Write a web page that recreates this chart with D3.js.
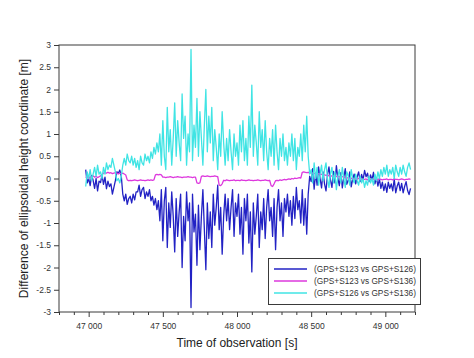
<!DOCTYPE html>
<html>
<head>
<meta charset="utf-8">
<script src="https://cdn.jsdelivr.net/npm/d3@7"></script>
<style>
html,body{margin:0;padding:0;background:#fff;}
svg{display:block;}
text{font-family:"Liberation Sans",Arial,sans-serif;}
</style>
</head>
<body>
<svg id="chart" width="474" height="358"></svg>
<script>
// ---- data (time grid: 10 s sampling starting at 46 980 s) ----
const tStart = 46980;
const tStep = 10;
const xTicks = [47000, 47500, 48000, 48500, 49000];
const xTickLabels = ["47 000", "47 500", "48 000", "48 500", "49 000"];
const yTicks = [-3, -2.5, -2, -1.5, -1, -0.5, 0, 0.5, 1, 1.5, 2, 2.5, 3];
const yTickLabels = ["-3", "-2.5", "-2", "-1.5", "-1", "-0.5", "0", "0.5", "1", "1.5", "2", "2.5", "3"];
const seriesNames = ["(GPS+S123 vs GPS+S126)", "(GPS+S123 vs GPS+S136)", "(GPS+S126 vs GPS+S136)"];
const seriesColors = ["#2222c4", "#dd38dd", "#40e4e4"];

const s123vs126 = [
  0.2, -0.1, 0.0, -0.16, 0.07, -0.04, -0.22, 0.0, -0.28, -0.06,
  -0.09, 0.08, -0.13, 0.03, -0.23, -0.06, -0.18, -0.12, -0.35, -0.2,
  -0.05, 0.15, 0.12, 0.19, 0.05, -0.35, -0.5, -0.35, -0.58, -0.45,
  -0.4, -0.55, -0.35, -0.48, -0.3, -0.3, -0.15, -0.4, -0.25, -0.2,
  -0.45, -0.3, -0.4, -0.25, -0.5, -0.4, -0.6, -0.45, -0.7, -0.5,
  -0.95, -0.25, -1.4, -0.5, -0.2,
  -1.55, -0.55, -1.1, -0.3, -0.85,
  -1.65, -0.45, -1.3, -0.75, -0.35,
  -2.0, -0.85, -1.4, -0.3, -0.95,
  -0.55, -2.9, -0.35, -1.2, -0.8,
  -1.95, -0.6, -1.6, -0.85, -0.25,
  -1.15, -2.05, -0.55, -1.35, -0.75,
  -1.55, -0.35, -1.05, -0.65, -0.15,
  -1.15, -0.65, -1.7, -0.85, -0.35,
  -0.95, -0.45, -1.15, -0.65, -0.25,
  -1.3, -0.55, -0.85, -0.35, -1.25,
  -0.65, -1.7, -0.45, -0.95, -0.35,
  -1.45, -0.75, -2.1, -0.55, -1.25,
  -0.85, -0.35, -1.55, -0.75, -1.15,
  -0.45, -1.35, -0.65, -0.25, -0.95,
  -0.65, -1.3, -0.45, -1.6, -0.65,
  -0.25, -0.95, -0.55, -1.3, -0.45,
  -0.75, -0.35, -0.85, -0.5, -1.05,
  -0.4, -0.9, -0.2, -0.7, -0.5,
  -1.0, -0.25, -1.05, -0.45, -1.25,
  -0.35, 0.05,
  -0.07, 0.22, -0.24, 0.12, -0.15, 0.26, 0.0, -0.21, 0.15, -0.12,
  -0.28, 0.08, 0.26, -0.03, -0.2, 0.16, -0.1, 0.29, 0.0, -0.16,
  0.13, -0.21, 0.03, 0.22, -0.13, -0.04, 0.15, -0.19, -0.01, 0.1,
  -0.12, 0.04, 0.15, -0.07, 0.09, -0.03, 0.18, 0.04, 0.12, -0.07,
  0.08, -0.03, 0.14, -0.12, 0.02, -0.17, -0.01, -0.22, -0.08, -0.27,
  -0.12, -0.31, -0.08, -0.22, -0.12, -0.28, -0.01, -0.32, -0.17, -0.08,
  -0.27, -0.11, -0.32, -0.18, -0.07, -0.27, -0.36, -0.22
];

const s123vs136 = [
  0.02, 0.05, 0.0, 0.04, 0.02, 0.06, 0.03, 0.05, 0.02, 0.04, 0.06, 0.08,
  0.12, 0.13, 0.12, 0.14, 0.12, 0.13, 0.11, 0.12, 0.13, 0.12, 0.1, 0.12, 0.11, 0.12, 0.1, 0.08,
  -0.03, -0.05, -0.04, -0.05, -0.04, -0.03, -0.04, -0.05, -0.04, -0.03, -0.04, -0.04, -0.05, -0.04, -0.03, -0.04, -0.03, -0.04, -0.03,
  0.08, 0.09, 0.08, 0.09, 0.08, 0.03,
  0.03, 0.02, 0.03, 0.03, 0.04, 0.03, 0.02, 0.03, 0.03, 0.04, 0.03, 0.03, 0.02, 0.03, 0.03, 0.03, 0.04, 0.03, 0.03, 0.02, 0.03, 0.03,
  -0.1, -0.11, -0.1,
  0.05, 0.06, 0.05, 0.05, 0.06, 0.05, 0.04, 0.05, 0.05, 0.06, 0.05, 0.04,
  -0.15, -0.16, -0.12,
  -0.04, -0.05, -0.03, -0.04, -0.05, -0.04, -0.04, -0.03, -0.05, -0.04,
  -0.04, -0.05, -0.03, -0.04, -0.04, -0.05, -0.04, -0.03, -0.04, -0.04,
  -0.05, -0.04, -0.04, -0.03, -0.04, -0.05, -0.04, -0.04, -0.03, -0.04,
  -0.05, -0.04,
  -0.16, -0.18, -0.12,
  -0.05, -0.04, -0.05, -0.03, -0.04, -0.03, -0.02, -0.03, -0.02, -0.01, -0.02, 0.0, -0.01, 0.01, 0.0, 0.01, 0.02, 0.01,
  0.14, 0.15, 0.14, 0.13, 0.14, 0.12, 0.13, 0.12, 0.11, 0.12, 0.1, 0.11, 0.1, 0.09, 0.1,
  0.08, 0.07, 0.08, 0.06, 0.07, 0.05, 0.06, 0.05, 0.04, 0.05, 0.04, 0.03, 0.04, 0.03, 0.02,
  0.02, 0.01, 0.0, 0.01, -0.01, 0.0, -0.02, -0.01, 0.0, -0.02,
  -0.01, -0.03, -0.02, -0.01, -0.03, -0.02, -0.02, -0.03, -0.01, -0.02,
  -0.03, -0.02, -0.01, -0.02, -0.03, -0.02, -0.02, -0.01, -0.03, -0.02,
  -0.02, -0.03, -0.01, -0.02, -0.02, -0.03, -0.02, -0.01, -0.02, -0.03,
  -0.02, -0.02, -0.01, -0.02
];

const s126vs136 = [
  -0.18, 0.15, 0.0, 0.2, -0.05, 0.1, 0.25, 0.05, 0.3, 0.1,
  0.15, 0.0, 0.25, 0.1, 0.35, 0.2, 0.3, 0.25, 0.45, 0.3,
  0.15, -0.05, 0.0, -0.1, 0.05, 0.3, 0.45, 0.3, 0.55, 0.4,
  0.35, 0.5, 0.3, 0.45, 0.25, 0.4, 0.2, 0.5, 0.35, 0.3,
  0.55, 0.4, 0.5, 0.35, 0.6, 0.45, 0.7, 0.55, 0.8, 0.6,
  1.0, 0.3, 1.3, 0.5, 0.2,
  1.6, 0.6, 1.1, 0.3, 0.9,
  1.7, 0.5, 1.3, 0.8, 0.4,
  1.9, 0.9, 1.4, 0.3, 1.0,
  0.6, 2.9, 0.4, 1.2, 0.7,
  1.8, 0.5, 1.5, 0.9, 0.3,
  1.2, 2.0, 0.6, 1.4, 0.8,
  1.6, 0.4, 1.1, 0.7, 0.2,
  1.0, 0.5, 1.5, 0.8, 0.3,
  0.9, 0.4, 1.1, 0.6, 0.2,
  1.0, 0.5, 0.8, 0.3, 1.2,
  0.6, 1.3, 0.4, 0.9, 0.3,
  1.4, 0.7, 2.1, 0.5, 1.2,
  0.8, 0.3, 1.5, 0.7, 1.1,
  0.4, 1.3, 0.6, 0.2, 0.9,
  0.5, 1.1, 0.3, 1.2, 0.6,
  0.2, 0.9, 0.5, 1.0, 0.4,
  0.7, 0.3, 0.8, 0.5, 1.0,
  0.4, 0.9, 0.2, 0.7, 0.5,
  1.0, 0.4, 1.2, 0.6, 1.4,
  0.5, 0.1,
  0.2, -0.1, 0.35, 0.0, 0.25, -0.15, 0.1, 0.3, -0.05, 0.2,
  0.35, 0.0, -0.2, 0.1, 0.25, -0.1, 0.15, -0.25, 0.05, 0.2,
  -0.1, 0.25, 0.0, -0.2, 0.15, 0.05, -0.15, 0.2, 0.0, -0.1,
  0.1, -0.05, -0.15, 0.05, -0.1, 0.0, -0.2, -0.05, -0.15, 0.05,
  -0.1, 0.0, -0.15, 0.1, -0.05, 0.15, 0.0, 0.2, 0.05, 0.25,
  0.1, 0.3, 0.05, 0.2, 0.1, 0.25, 0.0, 0.3, 0.15, 0.05,
  0.25, 0.1, 0.3, 0.15, 0.05, 0.25, 0.35, 0.2
];

const allSeries = [s123vs126, s123vs136, s126vs136];

// ---- layout ----
const svg = d3.select("#chart");
svg.append("rect").attr("width", 474).attr("height", 358).attr("fill", "#fff");

const L = 59, R = 415, T = 45, B = 312;
const x = d3.scaleLinear().domain([46800, 49200]).range([L, R]);
const y = d3.scaleLinear().domain([-3, 3]).range([B, T]);

const axisColor = "#3a3a3a";
const labelColor = "#333";

// data lines
const line = d3.line()
  .x((d, i) => x(tStart + i * tStep))
  .y(d => y(d));

const clip = svg.append("clipPath").attr("id", "clip")
  .append("rect").attr("x", L).attr("y", T).attr("width", R - L).attr("height", B - T);

const gLines = svg.append("g").attr("clip-path", "url(#clip)");
allSeries.forEach((s, k) => {
  gLines.append("path")
    .datum(s)
    .attr("d", line)
    .attr("fill", "none")
    .attr("stroke", seriesColors[k])
    .attr("stroke-width", 1.3)
    .attr("stroke-linejoin", "round");
});

// frame
svg.append("rect")
  .attr("x", L).attr("y", T).attr("width", R - L).attr("height", B - T)
  .attr("fill", "none").attr("stroke", axisColor).attr("stroke-width", 1);

// x axis
const xAxis = d3.axisBottom(x)
  .tickValues(xTicks)
  .tickFormat((d, i) => xTickLabels[i])
  .tickSize(5).tickPadding(6);
const gx = svg.append("g").attr("transform", `translate(0,${B})`).call(xAxis);
gx.select(".domain").remove();
gx.selectAll(".tick line").attr("stroke", axisColor);
gx.selectAll(".tick text").attr("fill", labelColor).attr("font-size", "8.5px")
  .attr("font-family", "'Liberation Sans', Arial, sans-serif");

const xMinor = d3.axisBottom(x)
  .tickValues(d3.range(46800, 49201, 100).filter(v => v % 500 !== 0))
  .tickFormat("").tickSize(3);
const gxm = svg.append("g").attr("transform", `translate(0,${B})`).call(xMinor);
gxm.select(".domain").remove();
gxm.selectAll(".tick line").attr("stroke", axisColor);

// y axis
const yAxis = d3.axisLeft(y)
  .tickValues(yTicks)
  .tickFormat((d, i) => yTickLabels[i])
  .tickSize(5).tickPadding(3);
const gy = svg.append("g").attr("transform", `translate(${L},0)`).call(yAxis);
gy.select(".domain").remove();
gy.selectAll(".tick line").attr("stroke", axisColor);
gy.selectAll(".tick text").attr("fill", labelColor).attr("font-size", "8.5px")
  .attr("font-family", "'Liberation Sans', Arial, sans-serif");

// axis titles
svg.append("text")
  .attr("x", (L + R) / 2).attr("y", 347)
  .attr("text-anchor", "middle")
  .attr("font-size", "12px").attr("fill", "#222")
  .text("Time of observation [s]");

svg.append("text")
  .attr("transform", `translate(28,${(T + B) / 2}) rotate(-90)`)
  .attr("text-anchor", "middle")
  .attr("font-size", "12px").attr("fill", "#222")
  .text("Difference of ellipsoidal height coordinate [m]");

// legend
const lg = svg.append("g");
lg.append("rect")
  .attr("x", 268.5).attr("y", 258.5).attr("width", 152).attr("height", 46)
  .attr("fill", "#fff").attr("stroke", axisColor).attr("stroke-width", 1);
seriesNames.forEach((name, k) => {
  const yy = 269 + k * 12;
  lg.append("line")
    .attr("x1", 274).attr("x2", 307).attr("y1", yy).attr("y2", yy)
    .attr("stroke", seriesColors[k]).attr("stroke-width", 1.5);
  lg.append("text")
    .attr("x", 314).attr("y", yy + 3)
    .attr("font-size", "8.3px").attr("fill", labelColor)
    .text(name);
});
</script>
</body>
</html>
